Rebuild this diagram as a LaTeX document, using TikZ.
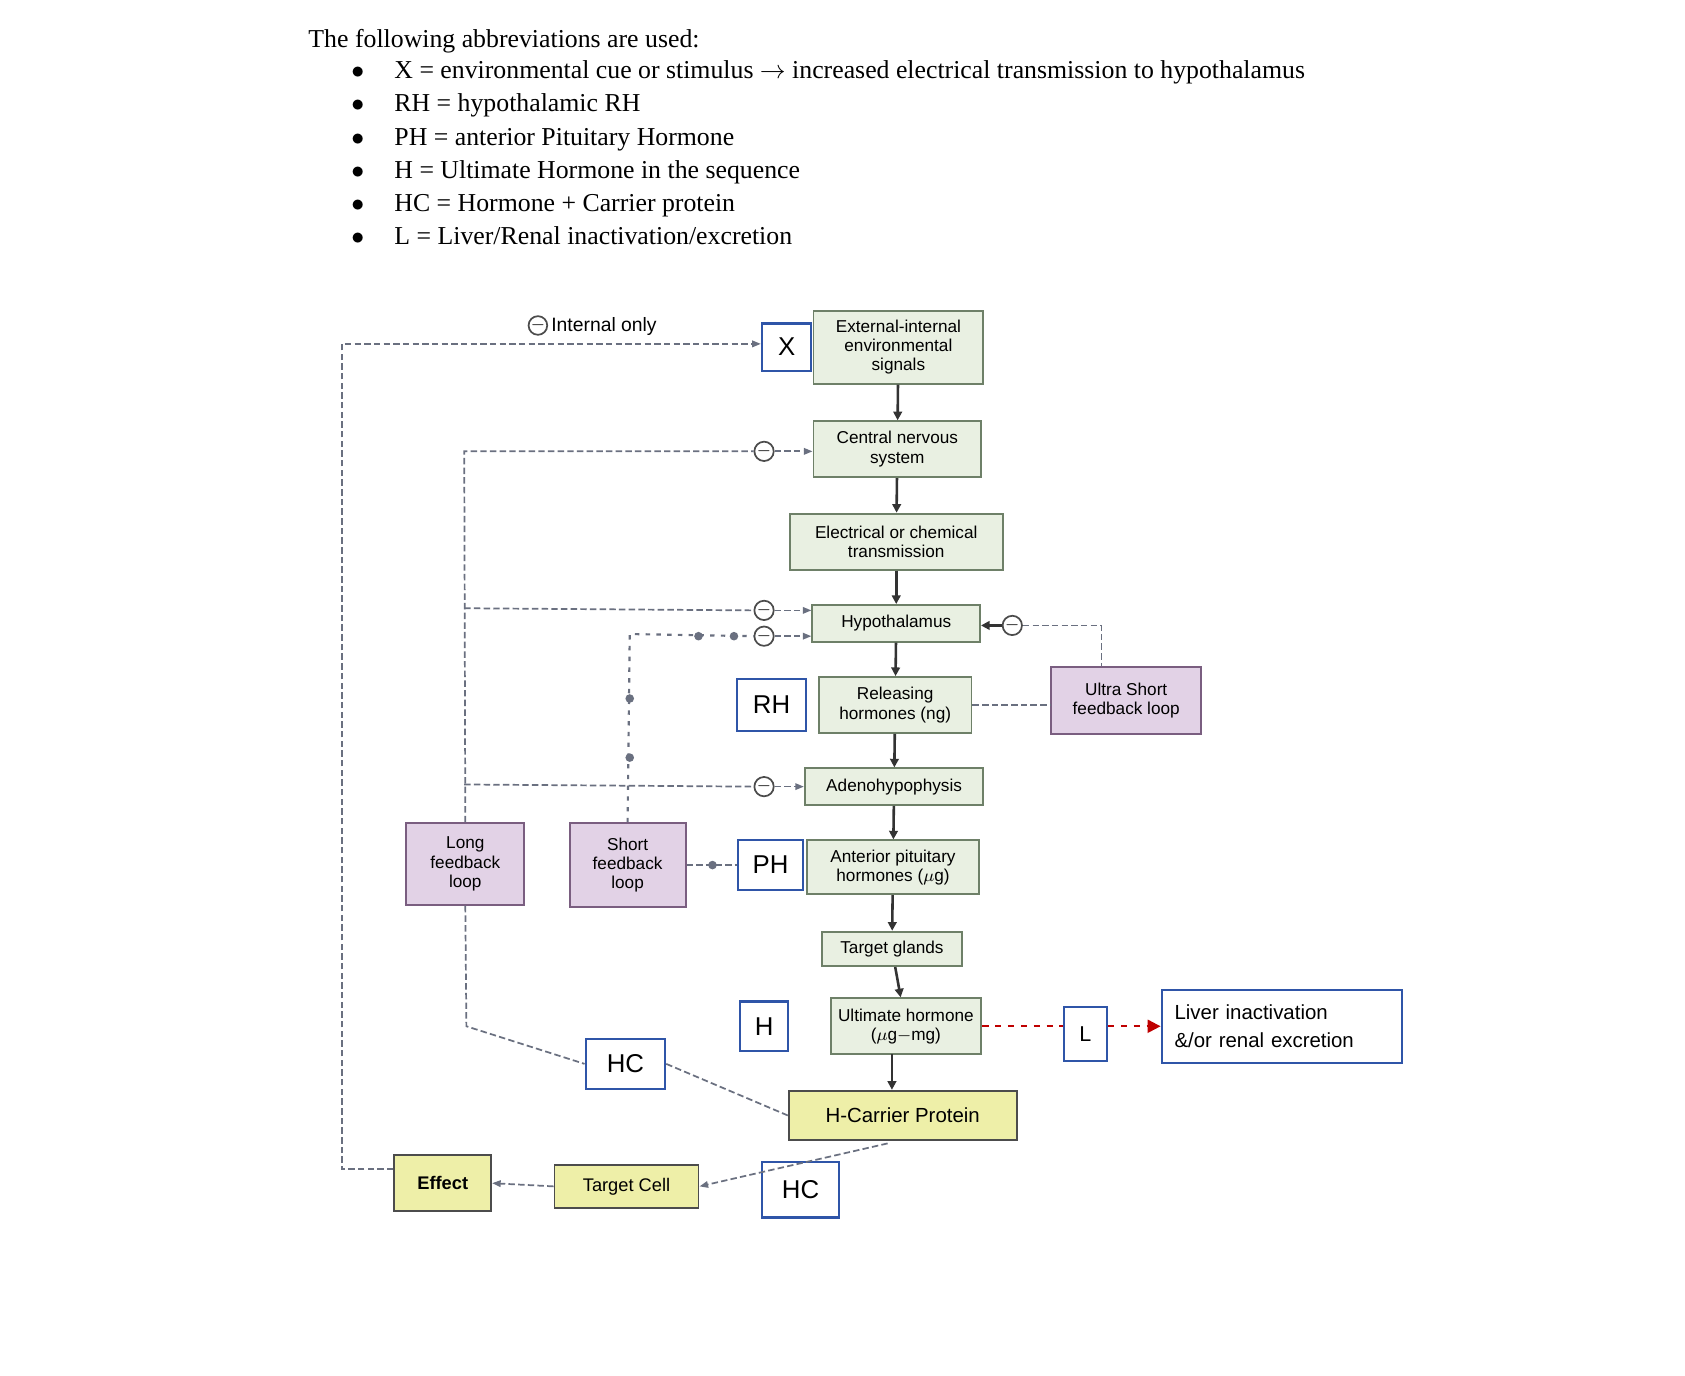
\documentclass[tikz,border=0pt]{standalone}
\usepackage{fontspec}
\setmainfont{Liberation Serif}
\newfontfamily\boxf{Liberation Sans}
\usetikzlibrary{arrows.meta}
\definecolor{gfill}{HTML}{E9F0E2}
\definecolor{gline}{HTML}{6E8068}
\definecolor{pfill}{HTML}{E2D2E6}
\definecolor{pline}{HTML}{7A5E80}
\definecolor{yfill}{HTML}{EEEFA8}
\definecolor{bline}{HTML}{2F55A8}
\definecolor{dline}{HTML}{6A7080}
\begin{document}
\begin{tikzpicture}[x=0.5pt,y=-0.5pt,
 wh/.style 2 args={minimum width=#1*0.5pt,minimum height=#2*0.5pt},
 box/.style={draw=gline,fill=gfill,line width=0.9pt,font=\boxf\fontsize{8}{9}\selectfont,align=center,inner sep=0pt},
 pbox/.style={draw=pline,fill=pfill,line width=0.9pt,font=\boxf\fontsize{8}{9}\selectfont,align=center,inner sep=0pt},
 ybox/.style={draw=black!70,fill=yfill,line width=0.9pt,font=\boxf\bfseries\fontsize{8.5}{10}\selectfont,align=center,inner sep=0pt},
 ab/.style={draw=bline,fill=white,line width=1pt,font=\boxf\fontsize{12}{13}\selectfont,inner sep=0pt},
 mn/.style={circle,draw=black!70,line width=0.8pt,minimum size=9pt,inner sep=0pt,font=\boxf\fontsize{8}{8}\selectfont},
 arr/.style={-{Triangle[length=4pt,width=4pt]},line width=1.2pt,black!80},
 dsh/.style={dline,line width=0.8pt,dash pattern=on 3pt off 1.5pt},
 dta/.style={dsh,-{Triangle[length=4pt,width=3pt]}},
]
\fill[white] (0,0) rectangle (1568,1280);
\useasboundingbox (0,0) rectangle (1568,1280);
\node[anchor=north west,align=left,font=\fontsize{12}{15.5}\selectfont] (hdr) at (280,20) {The following abbreviations are used:\\[-1pt]
\hspace*{20pt}$\bullet$\hspace{14pt}X = environmental cue or stimulus $\rightarrow$ increased electrical transmission to hypothalamus\\
\hspace*{20pt}$\bullet$\hspace{14pt}RH = hypothalamic RH\\
\hspace*{20pt}$\bullet$\hspace{14pt}PH = anterior Pituitary Hormone\\
\hspace*{20pt}$\bullet$\hspace{14pt}H = Ultimate Hormone in the sequence\\
\hspace*{20pt}$\bullet$\hspace{14pt}HC = Hormone + Carrier protein\\
\hspace*{20pt}$\bullet$\hspace{14pt}L = Liver/Renal inactivation/excretion};
% boxes
\node[ab,wh={46}{44}] (X) at (732,323) {X};
\node[box,wh={158}{68}] (ext) at (836,323) {External-internal\\environmental\\signals};
\node[box,wh={156}{52}] (cns) at (835,418) {Central nervous\\system};
\node[box,wh={198}{52}] (ele) at (834,504) {Electrical or chemical\\transmission};
\node[box,wh={156}{34}] (hyp) at (834,580) {Hypothalamus};
\node[ab,wh={64}{48}] (RH) at (718,656) {RH};
\node[box,wh={142}{52}] (rel) at (833,656) {Releasing\\hormones (ng)};
\node[pbox,wh={140}{62}] (ult) at (1048,652) {Ultra Short\\feedback loop};
\node[box,wh={166}{34}] (ade) at (832,732) {Adenohypophysis};
\node[ab,wh={60}{46}] (PH) at (717,805) {PH};
\node[box,wh={160}{50}] (ant) at (831,807) {Anterior pituitary\\hormones ($\mu$g)};
\node[pbox,wh={110}{76}] (long) at (433,804) {Long\\feedback\\loop};
\node[pbox,wh={108}{78}] (short) at (584,805) {Short\\feedback\\loop};
\node[box,wh={130}{32}] (tg) at (830,883) {Target glands};
\node[ab,wh={44}{46}] (H) at (711,955) {H};
\node[box,wh={140}{52}] (uh) at (843,955) {Ultimate hormone\\($\mu$g$-$mg)};
\node[ab,wh={40}{50},font=\boxf\fontsize{10}{11}\selectfont] (L) at (1010,962) {L};
\node[ab,wh={224}{68},align=left,text width=100pt,font=\boxf\fontsize{9.5}{13}\selectfont] (liv) at (1193,955) {Liver inactivation\\\&/or renal excretion};
\node[ab,wh={74}{46}] (HC1) at (582,990) {HC};
\node[ybox,wh={212}{46},font=\boxf\fontsize{9.5}{10}\selectfont] (hcp) at (840,1038) {H-Carrier Protein};
\node[ybox,wh={90}{52}] (eff) at (412,1101) {Effect};
\node[ybox,wh={134}{40},font=\boxf\fontsize{8.5}{10}\selectfont] (tc) at (583,1104) {Target Cell};
\node[ab,wh={72}{52}] (HC2) at (745,1107) {HC};
% minus circles
\node[mn] (m1) at (711,420) {$-$};
\node[mn] (m2) at (711,568) {$-$};
\node[mn] (m3) at (711,592) {$-$};
\node[mn] (m4) at (711,732) {$-$};
\node[mn] (m5) at (942,582) {$-$};
\node[font=\boxf\fontsize{9}{10}\selectfont,anchor=west] (io) at (484,303) {\tikz[baseline=-3pt]\node[mn,minimum size=8pt]{$-$};\,Internal only};
% main chain
\draw[arr] (ext) -- (cns);
\draw[arr] (cns) -- (ele);
\draw[arr] (ele) -- (hyp);
\draw[arr] (hyp) -- (rel);
\draw[arr] (rel) -- (ade);
\draw[arr] (ade) -- (ant);
\draw[arr] (ant) -- (tg);
\draw[arr] (tg) -- (uh);
\coordinate (u1) at (830,981);
\draw[arr] (u1) -- (hcp.north -| u1);
% outer loop
\coordinate (o1) at (318,1088);
\coordinate (o2) at (318,320);
\draw[dta] (eff.west |- o1) -- (o1) -- (o2) -- (X.west |- o2);
% long loop
\coordinate (l1) at (432,420);\coordinate (l2) at (432,566);\coordinate (l3) at (432,730);
\draw[dsh] (long.north) -- (l1) -- (m1.west);
\draw[dsh] (l2) -- (m2.west);
\draw[dsh] (l3) -- (m4.west);
\coordinate (l4) at (434,955);
\draw[dsh] (long.south) -- (l4) -- (HC1.west);
% short loop
\coordinate (s1) at (586,590);
\draw[dsh,dash pattern=on 2pt off 3pt,line width=1pt] (short.north) -- (s1) -- (m3.west);
\foreach \y in {650,705} \fill[dline] (586,\y) circle (2pt);
\fill[dline] (650,592) circle (2pt);\fill[dline] (683,592) circle (2pt);
\draw[dsh] (short.east) -- (PH.west);
\fill[dline] (663,805) circle (2pt);
% circles to boxes
\draw[dta] (m1) -- (cns.west |- m1);
\draw[dta] (m2) -- (hyp.west |- m2);
\draw[dta] (m3) -- (hyp.west |- m3);
\draw[dta] (m4) -- (ade.west |- m4);
% ultra short
\draw[arr,line width=1pt] (m5) -- (hyp.east |- m5);
\coordinate (u2) at (1025,582);
\draw[dsh] (m5) -- (u2) -- (ult.north -| u2);
\draw[dsh] (rel.east) -- (ult.west |- rel.east);
% liver
\draw[dashed,red!75!black,line width=1pt] (uh.east) -- (L.west |- uh.east);
\draw[dashed,red!75!black,line width=1pt,-{Triangle[length=6pt,width=6pt]}] (L.east |- liv.west) -- (liv.west);
% carrier
\draw[dsh] (HC1.east) -- (hcp.west);
\coordinate (c1) at (826,1064);
\draw[dta] (c1) -- (tc.east);
\draw[dta] (tc.west) -- (eff.east);
\end{tikzpicture}
\end{document}
